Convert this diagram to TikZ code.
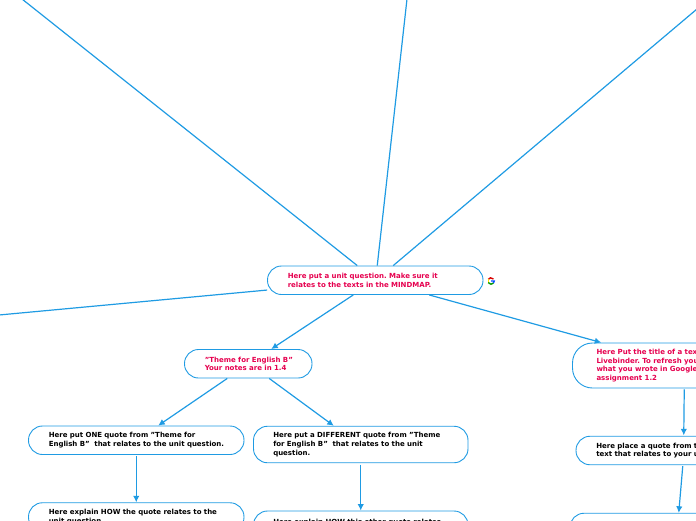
\documentclass[tikz,border=0pt]{standalone}
\usepackage{fontspec}
\setmainfont{DejaVu Sans}
\usetikzlibrary{arrows.meta}
\definecolor{linkblue}{HTML}{1F9BE3}
\definecolor{unitpink}{HTML}{E6004F}
\frenchspacing
\tikzset{every topic/.style={draw=linkblue,line width=0.9pt,fill=white,rounded corners=14pt,
		font=\fontsize{7}{8.6}\selectfont\bfseries,align=left,inner xsep=0pt,inner ysep=0pt},
	blacktopic/.style={every topic,text=black},
	pinktopic/.style={every topic,text=unitpink},
	link/.style={draw=linkblue,line width=1.2pt},
	arrowlink/.style={link,-{Latex[length=6.5pt,width=6.5pt]}}}
\begin{document}
\begin{tikzpicture}[x=1pt,y=-1pt]
\useasboundingbox (0,0) rectangle (696,520);
\clip (0,0) rectangle (696,520);

\coordinate (farleft) at (22,-1);
\coordinate (farmid) at (407,-1);
\coordinate (farright) at (697,9);
\coordinate (farwest) at (-1,315);

\node[pinktopic,text width=175pt,minimum width=215.5pt,minimum height=28.5pt] (unit) at (375.25,280.25) {Here put a unit question. Make sure it\\relates to the texts in the MINDMAP.};
\node[pinktopic,text width=87pt,minimum width=127.5pt,minimum height=28.5pt] (theme) at (248.25,363.75) {\mbox{"Theme for English B"}\\\mbox{Your notes are in 1.4}};
\node[blacktopic,text width=175pt,minimum width=215.5pt,minimum height=28.5pt] (quoteone) at (136.25,440.25) {Here put ONE quote from "Theme for\\\mbox{English B"\ \ that relates to the unit question.}};
\node[blacktopic,text width=175pt,minimum width=215.5pt,minimum height=28.5pt] (howone) at (136.25,517) {Here explain HOW the quote relates to the\\unit question.};
\node[blacktopic,text width=175pt,minimum width=214.5pt,minimum height=36.5pt] (quotetwo) at (360.75,444.5) {Here put a DIFFERENT quote from "Theme\\for English B"\ \ that relates to the unit\\question.};
\node[blacktopic,text width=175pt,minimum width=214.5pt,minimum height=31pt] (howtwo) at (360.75,526.5) {Here explain HOW this other quote relates\\to the unit question.};
\node[pinktopic,text width=167.5pt,minimum width=215.5pt,minimum height=45pt,rounded corners=20pt] (title) at (680.25,365.5) {Here Put the title of a text\\Livebinder. To refresh your\\what you wrote in Google\\assignment 1.2};
\node[blacktopic,text width=175pt,minimum width=215.5pt,minimum height=28.5pt] (place) at (683.75,450.5) {Here place a quote from the\\text that relates to your unit};
\node[blacktopic,text width=175pt,minimum width=215.5pt,minimum height=28.5pt] (hownext) at (677.75,527.5) {\ \\\ };

\draw[link] (farleft) -- ([xshift=-18pt]unit.north);
\draw[link] (farmid) -- ([xshift=2pt]unit.north);
\draw[link] (farright) -- ([xshift=18pt]unit.north);
\draw[link] (farwest) -- ([yshift=-24.5pt]unit.north west);
\draw[arrowlink] ([xshift=-22pt]unit.south) -- ([xshift=23pt]theme.north);
\draw[arrowlink] ([xshift=54pt]unit.south) -- ([xshift=-79pt]title.north);
\draw[arrowlink] ([xshift=-21pt]theme.south) -- ([xshift=22pt]quoteone.north);
\draw[arrowlink] ([xshift=21pt]theme.south) -- ([xshift=-27pt]quotetwo.north);
\draw[arrowlink] ([yshift=-1.5pt]quoteone.south) -- (howone.north);
\draw[arrowlink] ([yshift=-1.5pt]quotetwo.south) -- (howtwo.north);
\draw[arrowlink] ([xshift=4pt,yshift=-1pt]title.south) -- ([yshift=0.5pt]place.north);
\draw[arrowlink] ([xshift=-1pt,yshift=-1pt]place.south) -- ([xshift=1pt]hownext.north);

% google mark
\draw[line width=1.4pt,red!85!black] (491,281) ++(-40:3.2) arc (-40:-150:3.2);
\draw[line width=1.4pt,yellow!85!orange] (491,281) ++(-150:3.2) arc (-150:-210:3.2);
\draw[line width=1.4pt,green!60!black] (491,281) ++(-210:3.2) arc (-210:-320:3.2);
\draw[line width=1.4pt,blue!70!cyan] (491,281) -- (494.2,281) arc (0:40:3.2);
\end{tikzpicture}
\end{document}
